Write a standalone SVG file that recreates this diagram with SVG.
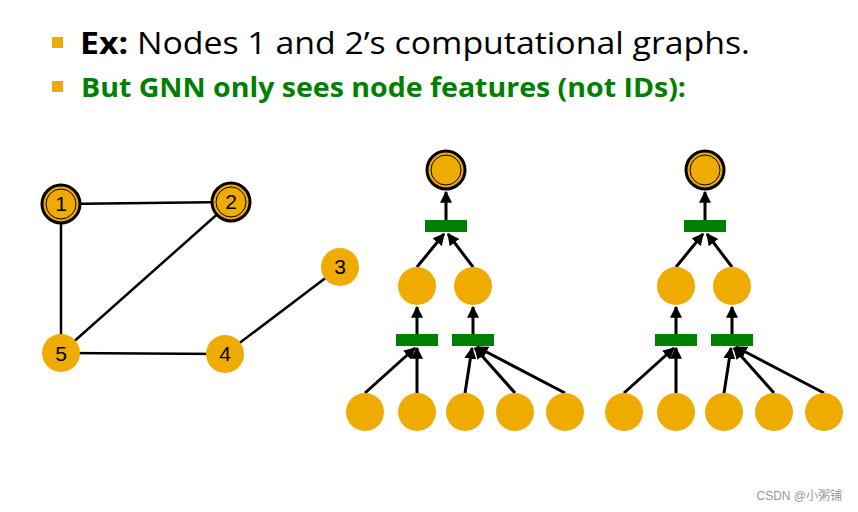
<svg xmlns="http://www.w3.org/2000/svg" width="858" height="512" viewBox="0 0 858 512">
<defs>
<style>
.n{fill:#f0ab00}
.t{stroke:#000;stroke-width:3}
.e{stroke:#000;stroke-width:2.5}
.a{stroke:#000;stroke-width:3;marker-end:url(#ah)}
.g{fill:#008000}
.lb{font-family:"Liberation Sans",Arial,sans-serif;font-size:21px;text-anchor:middle}
</style>
<marker id="ah" viewBox="0 0 10 10" refX="9" refY="5" markerWidth="4" markerHeight="4" orient="auto"><path d="M0,0L10,5L0,10z" fill="#000"/></marker>
<g id="tree" >
<g class="conn">
<line class="a" x1="446" y1="220" x2="446" y2="192"/>
<line class="a" x1="417" y1="267" x2="444" y2="234"/>
<line class="a" x1="473" y1="267" x2="448" y2="234"/>
<line class="a" x1="417" y1="334" x2="417" y2="307"/>
<line class="a" x1="473" y1="334" x2="473" y2="307"/>
<line class="a" x1="365" y1="393" x2="415" y2="348"/>
<line class="a" x1="417" y1="393" x2="417" y2="348"/>
<line class="a" x1="465" y1="393" x2="472" y2="348"/>
<line class="a" x1="515" y1="393" x2="475" y2="348"/>
<line class="a" x1="565" y1="393" x2="477" y2="347"/>
</g>
<circle class="n t" cx="446" cy="170" r="19"/>
<circle cx="446" cy="170" r="15" fill="none" stroke="#000" stroke-width="1"/>
<rect class="g" x="425" y="220" width="42" height="12"/>
<rect class="g" x="396" y="334" width="42" height="12"/>
<rect class="g" x="452" y="334" width="42" height="12"/>
<circle class="n" cx="417" cy="286" r="19"/>
<circle class="n" cx="473" cy="286" r="19"/>
<circle class="n" cx="365" cy="412" r="19"/>
<circle class="n" cx="417" cy="412" r="19"/>
<circle class="n" cx="465" cy="412" r="19"/>
<circle class="n" cx="515" cy="412" r="19"/>
<circle class="n" cx="565" cy="412" r="19"/>
</g>
</defs>
<rect width="858" height="512" fill="#fff"/>
<rect x="52" y="37" width="11" height="11" fill="#f0ab00"/>
<text x="80" y="54" font-family="Open Sans,Liberation Sans,sans-serif" font-size="31" fill="#000" textLength="670" lengthAdjust="spacingAndGlyphs"><tspan font-weight="bold">Ex:</tspan> Nodes 1 and 2’s computational graphs.</text>
<rect x="52" y="81" width="11" height="11" fill="#f0ab00"/>
<text x="81" y="97" font-family="Open Sans,Liberation Sans,sans-serif" font-size="26" font-weight="bold" fill="#008000" textLength="605" lengthAdjust="spacingAndGlyphs">But GNN only sees node features (not IDs):</text>
<g id="edges">
<line class="e" x1="61" y1="204" x2="231" y2="202"/>
<line class="e" x1="61" y1="204" x2="61" y2="353"/>
<line class="e" x1="231" y1="202" x2="61" y2="353"/>
<line class="e" x1="61" y1="353" x2="225" y2="354"/>
<line class="e" x1="225" y1="354" x2="340" y2="267"/>
</g>
<g id="n1"><circle class="n t" cx="61" cy="204" r="19"/><circle cx="61" cy="204" r="15" fill="none" stroke="#000" stroke-width="1"/><text class="lb" x="61" y="211">1</text></g>
<g id="n2"><circle class="n t" cx="231" cy="202" r="19"/><circle cx="231" cy="202" r="15" fill="none" stroke="#000" stroke-width="1"/><text class="lb" x="231" y="209">2</text></g>
<g id="n3"><circle class="n" cx="340" cy="267" r="19"/><text class="lb" x="340" y="274">3</text></g>
<g id="n4"><circle class="n" cx="225" cy="354" r="19"/><text class="lb" x="225" y="361">4</text></g>
<g id="n5"><circle class="n" cx="61" cy="353" r="19"/><text class="lb" x="61" y="361">5</text></g>
<g id="tree1"><use href="#tree"/></g>
<g id="tree2"><use href="#tree" transform="translate(259,0)"/></g>
<text x="842" y="500" text-anchor="end" font-family="Liberation Sans,Noto Sans CJK SC,sans-serif" font-size="12" fill="#999">CSDN @小粥铺</text>
</svg>
